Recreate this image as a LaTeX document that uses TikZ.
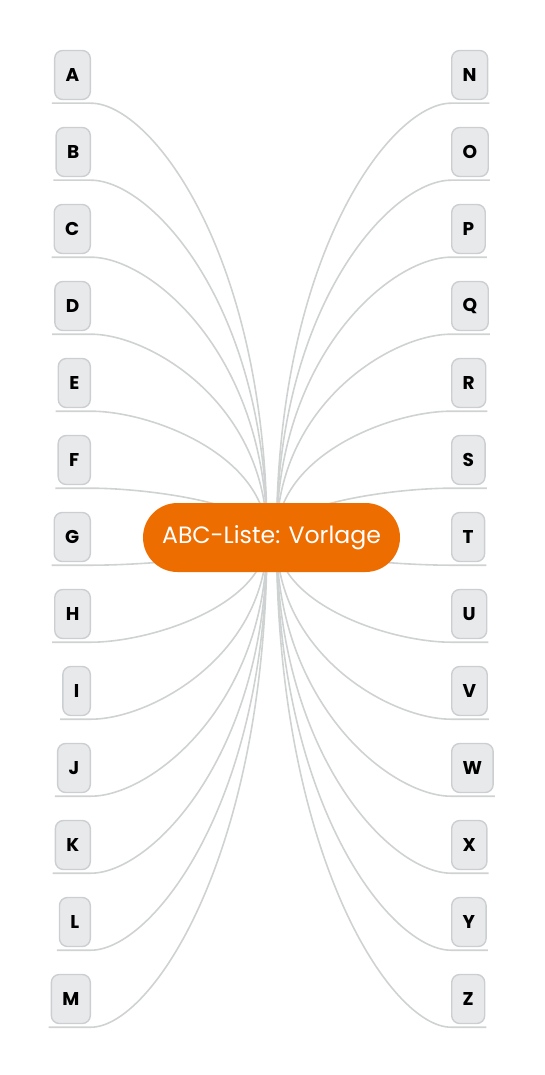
\documentclass[tikz,border=0pt]{standalone}
\usepackage{fontspec}
\setmainfont{Poppins}
\usetikzlibrary{backgrounds}
\definecolor{linkgray}{HTML}{CFD2D2}
\definecolor{boxfill}{HTML}{E8E9EB}
\definecolor{boxline}{HTML}{CCCFD1}
\definecolor{rootorange}{HTML}{EE6D00}
\begin{document}
\begin{tikzpicture}[x=1pt,y=-1pt,
  leaf/.style={draw=boxline, fill=boxfill, line width=1.4pt, rounded corners=8pt,
    minimum height=49pt, inner xsep=11pt, inner ysep=0pt,
    font=\fontsize{18.5}{21}\selectfont\bfseries, text=black},
  rootnode/.style={fill=rootorange, text=white, rounded corners=34.5pt,
    minimum width=257pt, minimum height=69pt, inner sep=0pt,
    font=\fontsize{23.6}{27}\selectfont},
  link/.style={draw=linkgray, line width=1.6pt}]
\useasboundingbox (0,0) rectangle (545,1075);
\node[rootnode] (root) at (271.5,537.5) {ABC-Liste: Vorlage};
\foreach \l [count=\i from 0] in {A,...,M} {
  \node[leaf, anchor=east] (\l) at (91,75+77*\i) {\l};
}
\foreach \l [count=\i from 0] in {N,...,Z} {
  \node[leaf, anchor=west] (\l) at (451,75+77*\i) {\l};
}
\begin{scope}[on background layer]
\foreach \l [count=\i from 0] in {A,...,M} {
  \pgfmathsetmacro\d{0.65*(102.5+77*\i-537.5)}
  \draw[link] ([xshift=-2pt,yshift=-3pt]\l.south west) -- ([yshift=-3pt]\l.south east)
    .. controls +(60,0) and +(0,\d) .. ([xshift=-4.5pt]root.center);
}
\foreach \l [count=\i from 0] in {N,...,Z} {
  \pgfmathsetmacro\d{0.65*(102.5+77*\i-537.5)}
  \draw[link] ([xshift=1pt,yshift=-3pt]\l.south east) -- ([yshift=-3pt]\l.south west)
    .. controls +(-60,0) and +(0,\d) .. ([xshift=5pt]root.center);
}
\end{scope}
\end{tikzpicture}
\end{document}
